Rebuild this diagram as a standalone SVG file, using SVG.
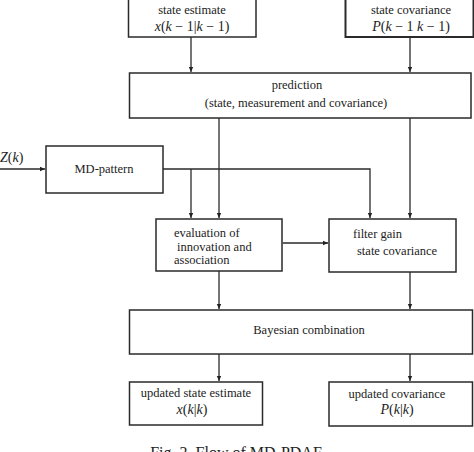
<svg xmlns="http://www.w3.org/2000/svg" width="474" height="452" viewBox="0 0 474 452">
<defs>
<marker id="ah" markerWidth="6" markerHeight="6" refX="5" refY="3" orient="auto" markerUnits="userSpaceOnUse">
<path d="M0,0.8 L5,3 L0,5.2 Z" fill="#222"/>
</marker>
<style>
.box{fill:#fff;stroke:#2a2a2a;stroke-width:1.5}
.ln{fill:none;stroke:#2a2a2a;stroke-width:1.3}
.t{font-family:"Liberation Serif","Times New Roman",serif;font-size:12.5px;fill:#222}
.m{font-family:"Liberation Serif","Times New Roman",serif;font-size:14px;fill:#222}
.i{font-style:italic}
</style>
</defs>
<rect width="474" height="452" fill="#fff"/>
<g id="connectors">
<path class="ln" d="M191,37 V72" marker-end="url(#ah)"/>
<path class="ln" d="M410,37 V72" marker-end="url(#ah)"/>
<path class="ln" d="M0,169 H45" marker-end="url(#ah)"/>
<path class="ln" d="M163,169 H370 V218" marker-end="url(#ah)"/>
<path class="ln" d="M191,169 V218" marker-end="url(#ah)"/>
<path class="ln" d="M219,118 V218" marker-end="url(#ah)"/>
<path class="ln" d="M410,118 V218" marker-end="url(#ah)"/>
<path class="ln" d="M283,243 H328" marker-start="url(#ah)" marker-end="url(#ah)"/>
<path class="ln" d="M219,271 V309" marker-end="url(#ah)"/>
<path class="ln" d="M410,272 V309" marker-end="url(#ah)"/>
<path class="ln" d="M219,354 V381" marker-end="url(#ah)"/>
<path class="ln" d="M410,354 V381" marker-end="url(#ah)"/>
</g>
<g id="state-estimate">
<rect class="box" x="128.5" y="-1" width="127.5" height="38"/>
<text class="t" x="192" y="14" text-anchor="middle">state estimate</text>
<text class="m" x="192" y="31" text-anchor="middle"><tspan class="i">x</tspan>(<tspan class="i">k</tspan> − 1|<tspan class="i">k</tspan> − 1)</text>
</g>
<g id="state-covariance">
<rect class="box" x="345.5" y="-1" width="128" height="38" style="stroke-width:2"/>
<text class="t" x="411" y="14" text-anchor="middle">state covariance</text>
<text class="m" x="411" y="31" text-anchor="middle"><tspan class="i">P</tspan>(<tspan class="i">k</tspan> − 1 <tspan class="i">k</tspan> − 1)</text>
</g>
<g id="prediction">
<rect class="box" x="129.5" y="73" width="341.5" height="45"/>
<text class="t" x="297" y="89" text-anchor="middle">prediction</text>
<text class="t" x="296" y="107" text-anchor="middle">(state, measurement and covariance)</text>
</g>
<g id="zk-label">
<text class="m" x="0" y="162"><tspan class="i">Z</tspan>(<tspan class="i">k</tspan>)</text>
</g>
<g id="md-pattern">
<rect class="box" x="46" y="146" width="117" height="47"/>
<text class="t" x="104" y="173" text-anchor="middle">MD-pattern</text>
</g>
<g id="evaluation">
<rect class="box" x="156" y="219" width="126" height="52"/>
<text class="t" x="174" y="237">evaluation of</text>
<text class="t" x="177" y="250.5">innovation and</text>
<text class="t" x="174" y="264">association</text>
</g>
<g id="filter-gain">
<rect class="box" x="329" y="219" width="127" height="53"/>
<text class="t" x="353" y="238">filter gain</text>
<text class="t" x="357" y="255">state covariance</text>
</g>
<g id="bayesian">
<rect class="box" x="129.5" y="310" width="343" height="44"/>
<text class="t" x="309" y="334" text-anchor="middle">Bayesian combination</text>
</g>
<g id="updated-state">
<rect class="box" x="129.5" y="382" width="133" height="43"/>
<text class="t" x="196" y="397" text-anchor="middle">updated state estimate</text>
<text class="m" x="192" y="414" text-anchor="middle"><tspan class="i">x</tspan>(<tspan class="i">k</tspan>|<tspan class="i">k</tspan>)</text>
</g>
<g id="updated-covariance">
<rect class="box" x="329" y="382" width="143.5" height="44"/>
<text class="t" x="397" y="398" text-anchor="middle">updated covariance</text>
<text class="m" x="397" y="414" text-anchor="middle"><tspan class="i">P</tspan>(<tspan class="i">k</tspan>|<tspan class="i">k</tspan>)</text>
</g>
<text class="t" x="236" y="458" text-anchor="middle" style="font-size:16px">Fig. 2.  Flow of MD-PDAF</text>
</svg>
